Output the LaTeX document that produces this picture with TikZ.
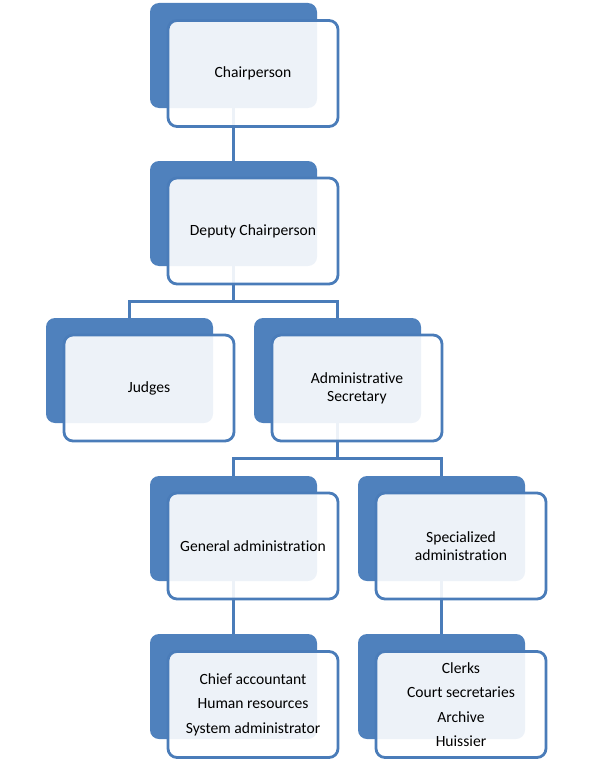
\documentclass[tikz,border=0pt]{standalone}
\usepackage{fontspec}
\setmainfont[RawFeature={-liga;-calt;-clig}]{Carlito}
\definecolor{darkblue}{HTML}{4F81BD}
\definecolor{lineblue}{HTML}{4A7CB9}
\begin{document}
\begin{tikzpicture}[x=1pt,y=-1pt,
  darkbox/.style={rectangle,rounded corners=9pt,fill=darkblue,draw=none,
    minimum width=167pt,minimum height=105pt,inner sep=0pt},
  frontbox/.style={rectangle,rounded corners=9pt,draw=lineblue,line width=2.8pt,
    fill=white,fill opacity=0.9,text opacity=1,
    minimum width=170pt,minimum height=106pt,inner sep=0pt,align=center,
    font=\fontsize{15.6}{18}\selectfont},
  listbox/.style={frontbox,font=\fontsize{15.6}{24.5}\selectfont},
  conn/.style={draw=lineblue,line width=2.8pt}]
\useasboundingbox (0,0) rectangle (589,760);
% dark boxes
\node[darkbox] (chair) at (233.5,55.5) {};
\node[darkbox] (dep) at (233.5,213.5) {};
\node[darkbox] (jud) at (129.5,370.5) {};
\node[darkbox] (adm) at (337.5,370.5) {};
\node[darkbox] (gen) at (233.5,528.5) {};
\node[darkbox] (spe) at (441.5,528.5) {};
\node[darkbox] (genl) at (233.5,686.5) {};
\node[darkbox] (spel) at (441.5,686.5) {};
% connectors (behind front boxes)
\draw[conn] (chair.south) -- (dep.north);
\draw[conn] (dep.south) -- ++(0,35) coordinate (j1) -| (jud.north);
\draw[conn] (j1) -| (adm.north);
\draw[conn] (adm.south) -- ++(0,35) coordinate (j2) -| (gen.north);
\draw[conn] (j2) -| (spe.north);
\draw[conn] (gen.south) -- (genl.north);
\draw[conn] (spe.south) -- (spel.north);
% front boxes
\node[frontbox] (chairf) at (253,73.5) {Chairperson};
\node[frontbox] (depf) at (253,231) {Deputy Chairperson};
\node[frontbox] (judf) at (149,388) {Judges};
\node[frontbox] (admf) at (357,388) {Administrative\\Secretary};
\node[frontbox] (genf) at (253,546) {General administration};
\node[frontbox] (spef) at (461,546) {Specialized\\administration};
\node[listbox] (genlf) at (253,704.5) {Chief accountant\\Human resources\\System administrator};
\node[listbox] (spelf) at (461,704.5) {Clerks\\Court secretaries\\Archive\\Huissier};
\end{tikzpicture}
\end{document}
